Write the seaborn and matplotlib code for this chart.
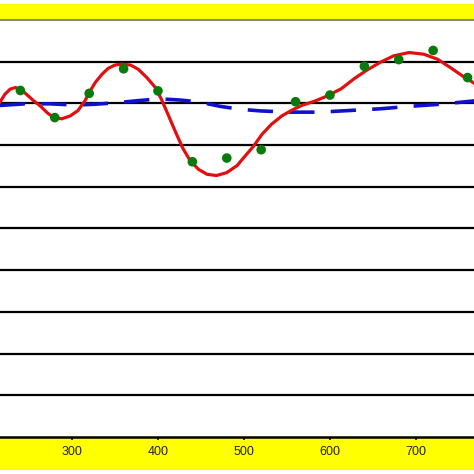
import matplotlib
matplotlib.use("Agg")
import matplotlib.pyplot as plt
from matplotlib.patches import Rectangle
import seaborn as sns
import pandas as pd

# Measured points (green dots)
dot_x = [240, 280, 320, 360, 400, 440, 480, 520, 560, 600, 640, 680, 720, 760]
dot_y = [8.31, 7.66, 8.24, 8.83, 8.30, 6.60, 6.69, 6.89, 8.04, 8.20, 8.89, 9.05, 9.27, 8.62]

# Red smooth curve
red_x = [216, 222, 228, 234, 240, 247, 255, 263, 271, 278, 288, 298, 307, 315,
         320, 327, 335, 342, 350, 358, 368, 377, 387, 397, 404, 412, 418, 422,
         429, 437, 447, 457, 468, 480, 492, 501, 511, 521, 532, 544, 556, 567,
         583, 597, 613, 628, 643, 659, 674, 692, 709, 725, 740, 754, 768]
red_y = [8.02, 8.22, 8.34, 8.38, 8.34, 8.22, 8.07, 7.94, 7.78, 7.67, 7.63, 7.70, 7.83, 8.06,
         8.26, 8.50, 8.70, 8.84, 8.92, 8.94, 8.92, 8.82, 8.62, 8.38, 8.10, 7.72, 7.43, 7.24,
         6.92, 6.64, 6.42, 6.30, 6.27, 6.34, 6.51, 6.73, 6.97, 7.26, 7.50, 7.70, 7.84, 7.95,
         8.06, 8.18, 8.35, 8.59, 8.80, 8.99, 9.14, 9.22, 9.18, 9.06, 8.86, 8.66, 8.48]

# Blue dashed curve
blue_x = [216, 245, 274, 304, 327, 354, 379, 402, 426, 449, 472, 495, 519, 554,
          588, 623, 658, 693, 728, 768]
blue_y = [7.95, 7.99, 7.99, 7.96, 7.98, 8.02, 8.07, 8.11, 8.08, 8.03, 7.93, 7.86, 7.82, 7.79,
          7.79, 7.83, 7.87, 7.93, 7.98, 8.06]

x_ticks = [300, 400, 500, 600, 700]
y_grid = [1, 2, 3, 4, 5, 6, 7, 8, 9]

sns.set_style("white")
plt.rcParams['font.family'] = ['Liberation Sans', 'DejaVu Sans']

W = 474
fig = plt.figure(figsize=(4.74, 4.74), dpi=100, facecolor="white")
# yellow frame band
fig.patches.append(Rectangle((0, 4 / W), 1, 466 / W, transform=fig.transFigure,
                             facecolor="#FFFF00", edgecolor="none", zorder=-10))

ax = fig.add_axes([0, 37 / W, 1, 417 / W])
ax.set_facecolor("white")
ax.set_zorder(1)

df_blue = pd.DataFrame({"x": blue_x, "y": blue_y})
df_red = pd.DataFrame({"x": red_x, "y": red_y})
df_dot = pd.DataFrame({"x": dot_x, "y": dot_y})

sns.lineplot(data=df_blue, x="x", y="y", ax=ax, color="#1010D0", linewidth=2.6,
             linestyle=(0, (7, 4.5)), zorder=3)
sns.lineplot(data=df_red, x="x", y="y", ax=ax, color="#E01010", linewidth=2.3, zorder=4)
sns.scatterplot(data=df_dot, x="x", y="y", ax=ax, color="#0A7A0A", s=48,
                edgecolor="none", linewidth=0, zorder=5)

ax.set_xlim(216.3, 767.5)
ax.set_ylim(0, 10)
for g in y_grid:
    ax.axhline(g, color="black", linewidth=1.6, zorder=1)

ax.set_xticks(x_ticks)
ax.set_xticklabels([str(t) for t in x_ticks])
ax.set_yticks([])
ax.set_xlabel("")
ax.set_ylabel("")
ax.tick_params(axis="x", direction="out", length=2.5, width=1.2, color="black",
               labelsize=9, labelcolor="#222222", pad=4, bottom=True)

ax.spines["left"].set_visible(False)
ax.spines["right"].set_visible(False)
ax.spines["bottom"].set_color("black")
ax.spines["bottom"].set_linewidth(1.8)
ax.spines["top"].set_color("#888888")
ax.spines["top"].set_linewidth(1.5)

fig.savefig("out.png", dpi=100, facecolor="white")
